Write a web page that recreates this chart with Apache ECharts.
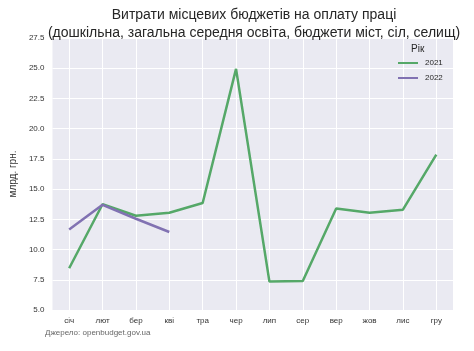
<!DOCTYPE html>
<html>
	<head>
		<meta charset="utf-8">
		<script src="https://cdn.jsdelivr.net/npm/echarts@6/dist/echarts.min.js"></script>
		<title></title>
		<style>
			body { margin: 0; background: #fff; }
		</style>
	</head>
	<body>
		<div id="main" style="width: 474px;height:351px;"></div>
		<script type="text/javascript">
			// місяці та дані (млрд. грн.)
			var months = ['січ', 'лют', 'бер', 'кві', 'тра', 'чер', 'лип', 'сер', 'вер', 'жов', 'лис', 'гру'];
			var years = ['2021', '2022'];
			var values2021 = [8.45, 13.75, 12.8, 13.05, 13.85, 24.95, 7.35, 7.4, 13.4, 13.05, 13.3, 17.85];
			var values2022 = [11.65, 13.7, 12.55, 11.45];
			var yTicks = [5, 27.5, 2.5];

			var myChart = echarts.init(document.getElementById('main'));

			var font = 'Liberation Sans, Arial, sans-serif';

			var option = {
				backgroundColor: '#ffffff',
				textStyle: { fontFamily: font },
				title: {
					text: 'Витрати місцевих бюджетів на оплату праці\n(дошкільна, загальна середня освіта, бюджети міст, сіл, селищ)',
					left: 249,
					top: 1,
					textAlign: 'center',
					textStyle: {
						fontFamily: font,
						fontSize: 14,
						fontWeight: 'normal',
						color: '#262626',
						lineHeight: 18
					}
				},
				legend: {
					data: years,
					orient: 'vertical',
					left: 398,
					top: 59,
					padding: 0,
					icon: 'rect',
					itemWidth: 20,
					itemHeight: 2,
					itemGap: 7,
					textStyle: { fontFamily: font, fontSize: 8, color: '#262626', padding: [0, 0, 0, 2] }
				},
				grid: {
					left: 45,
					right: 21,
					top: 38,
					bottom: 41,
					show: true,
					backgroundColor: '#eaeaf2',
					borderWidth: 0
				},
				xAxis: {
					type: 'category',
					data: months,
					boundaryGap: true,
					axisLine: { show: false },
					axisTick: { show: false, alignWithLabel: true },
					axisLabel: {
						interval: 0,
						margin: 7,
						fontSize: 8,
						color: '#333'
					},
					splitLine: {
						show: true,
						interval: 0,
						alignWithLabel: true,
						lineStyle: { color: '#ffffff', width: 1 }
					}
				},
				yAxis: {
					type: 'value',
					min: yTicks[0],
					max: yTicks[1],
					interval: yTicks[2],
					name: 'млрд. грн.',
					nameLocation: 'middle',
					nameGap: 28,
					nameTextStyle: { fontSize: 10, color: '#333' },
					axisLine: { show: false },
					axisTick: { show: false },
					axisLabel: {
						margin: 8,
						fontSize: 8,
						color: '#333',
						formatter: function(v) { return v.toFixed(1); }
					},
					splitLine: { lineStyle: { color: '#ffffff', width: 1 } }
				},
				graphic: [
					{
						type: 'text',
						left: 411,
						top: 44,
						style: { text: 'Рік', fontFamily: font, fontSize: 10, fill: '#262626' }
					},
					{
						type: 'text',
						left: 45,
						top: 329,
						style: { text: 'Джерело: openbudget.gov.ua', fontFamily: font, fontSize: 8, fill: '#666' }
					}
				],
				series: [
					{
						name: years[0],
						type: 'line',
						data: values2021,
						symbol: 'none',
						color: '#55a868',
						lineStyle: { width: 2.5, color: '#55a868' }
					},
					{
						name: years[1],
						type: 'line',
						data: values2022,
						symbol: 'none',
						color: '#8172b2',
						lineStyle: { width: 2.5, color: '#8172b2' }
					}
				]
			};

			myChart.setOption(option);
		</script>
	</body>
</html>
